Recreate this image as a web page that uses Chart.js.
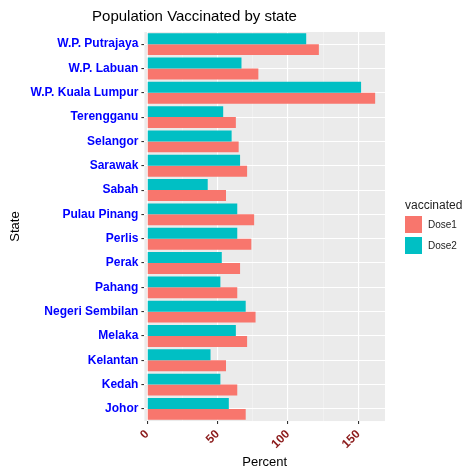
<!DOCTYPE html>
<html><head><meta charset="utf-8">
<script src="https://cdn.jsdelivr.net/npm/chart.js@4"></script>
<style>
body{margin:0;background:#fff;font-family:"Liberation Sans",Arial,sans-serif}
#wrap{position:relative;width:474px;height:474px}
#legend{position:absolute;left:405px;top:198px;font-size:12px;color:#222}
.it{display:flex;align-items:center;margin-top:4px;font-size:10px}
.sw{width:17px;height:17px;margin-right:6px}
</style></head><body>
<div id="wrap"><canvas id="c" width="474" height="474"></canvas>
<div id="legend"><div style="font-size:12px;margin-bottom:4px">vaccinated</div>
<div class="it"><div class="sw" style="background:#F8766D"></div>Dose1</div>
<div class="it"><div class="sw" style="background:#00BFC4"></div>Dose2</div></div></div>
<script>
const states=["W.P. Putrajaya","W.P. Labuan","W.P. Kuala Lumpur","Terengganu","Selangor","Sarawak","Sabah","Pulau Pinang","Perlis","Perak","Pahang","Negeri Sembilan","Melaka","Kelantan","Kedah","Johor"];
const dose1=[122,79,162,63,65,71,56,76,74,66,64,77,71,56,64,70];
const dose2=[113,67,152,54,60,66,43,64,64,53,52,70,63,45,52,58];
const xTicks=[0,50,100,150];
const isMaj=ctx=>xTicks.includes(ctx.tick&&ctx.tick.value);
const bg={id:'bg',beforeDraw(ch){const a=ch.chartArea,c=ch.ctx;c.save();c.fillStyle='#EBEBEB';c.fillRect(a.left,a.top,a.right-a.left,a.bottom-a.top);c.restore();}};
new Chart(document.getElementById('c'),{type:'bar',
data:{labels:states,datasets:[
{label:'Dose2',data:dose2,backgroundColor:'#00BFC4'},
{label:'Dose1',data:dose1,backgroundColor:'#F8766D'}]},
options:{indexAxis:'y',responsive:false,animation:false,
layout:{padding:{right:89,top:8,left:4}},
plugins:{legend:{display:false},title:{display:true,text:'Population Vaccinated by state',color:'#000',font:{size:15,family:'Liberation Sans',weight:'normal'},padding:{top:0,bottom:6}}},
scales:{
x:{min:-2,max:169,afterBuildTicks(s){s.ticks=[0,25,50,75,100,125,150].map(v=>({value:v}));},
ticks:{maxRotation:45,minRotation:45,color:'#8B1A1A',font:{weight:'bold',size:12},callback:v=>xTicks.includes(v)?v:''},
grid:{color:ctx=>isMaj(ctx)?'#fff':'#F5F5F5',lineWidth:ctx=>isMaj(ctx)?1.1:0.6,drawTicks:true,tickColor:ctx=>isMaj(ctx)?'#333':'rgba(0,0,0,0)',tickLength:3},
border:{display:false},title:{display:true,text:'Percent',color:'#000',font:{size:13},padding:{top:0}}},
y:{ticks:{color:'#0000FF',font:{weight:'bold',size:12}},
grid:{color:'#fff',lineWidth:1.1,offset:false,tickColor:'#333',tickLength:3},border:{display:false},
title:{display:true,text:'State',color:'#000',font:{size:13}}}},
datasets:{bar:{categoryPercentage:0.9,barPercentage:1}}},
plugins:[bg]});
</script></body></html>
